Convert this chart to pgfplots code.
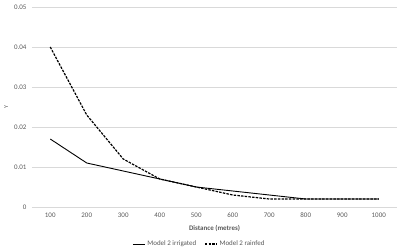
\documentclass[border=0pt]{standalone}
\usepackage{pgfplots}
\pgfplotsset{compat=1.18}
\usepackage{fontspec}
\setmainfont{Carlito}
\definecolor{txt}{HTML}{595959}
\definecolor{gridc}{HTML}{D9D9D9}
\begin{document}
\begin{tikzpicture}
\useasboundingbox (-32bp,-44bp) rectangle (368bp,207bp);
\begin{axis}[
  scale only axis, width=365bp, height=200bp,
  xmin=50, xmax=1050, ymin=0, ymax=0.05,
  scaled y ticks=false, scaled x ticks=false,
  axis line style={draw=none},
  major tick length=0pt,
  ymajorgrids, grid style={gridc, line width=0.6bp},
  xtick={100,200,300,400,500,600,700,800,900,1000},
  xticklabels={100,200,300,400,500,600,700,800,900,1000},
  ytick={0,0.01,0.02,0.03,0.04,0.05},
  yticklabels={0,0.01,0.02,0.03,0.04,0.05},
  ticklabel style={font=\fontsize{7}{8}\selectfont, text=txt, inner sep=0.5bp},
  xticklabel style={yshift=-4.8bp},
  yticklabel style={xshift=-4.8bp},
  xlabel={\textbf{Distance (metres)}},
  xlabel style={font=\fontsize{7}{8}\selectfont, text=txt, at={(axis description cs:0.5,-0.105)}, anchor=center},
  ylabel={Y},
  ylabel style={font=\fontsize{6}{7}\selectfont, text=txt, at={(axis description cs:-0.071,0.5)}, anchor=center, rotate=0},
  legend columns=2,
  legend style={draw=none, fill=none, font=\fontsize{7}{8}\selectfont, text=txt,
    at={(axis description cs:0.459,-0.185)}, anchor=center,
    /tikz/every even column/.append style={column sep=6bp}},
  legend image code/.code={\draw[#1] (0bp,0bp) -- (12bp,0bp);},
]
\addplot[black, line width=0.9bp] coordinates {
 (100,0.017) (200,0.011) (300,0.009) (400,0.007) (500,0.005)
 (600,0.004) (700,0.003) (800,0.002) (900,0.002) (1000,0.002)};
\addlegendentry{Model 2 irrigated}
\addplot[black, line width=1.2bp, dash pattern=on 2.5bp off 1.2bp] coordinates {
 (100,0.040) (200,0.023) (300,0.012) (400,0.007) (500,0.005)
 (600,0.003) (700,0.002) (800,0.002) (900,0.002) (1000,0.002)};
\addlegendentry{Model 2 rainfed}
\end{axis}
\end{tikzpicture}
\end{document}
